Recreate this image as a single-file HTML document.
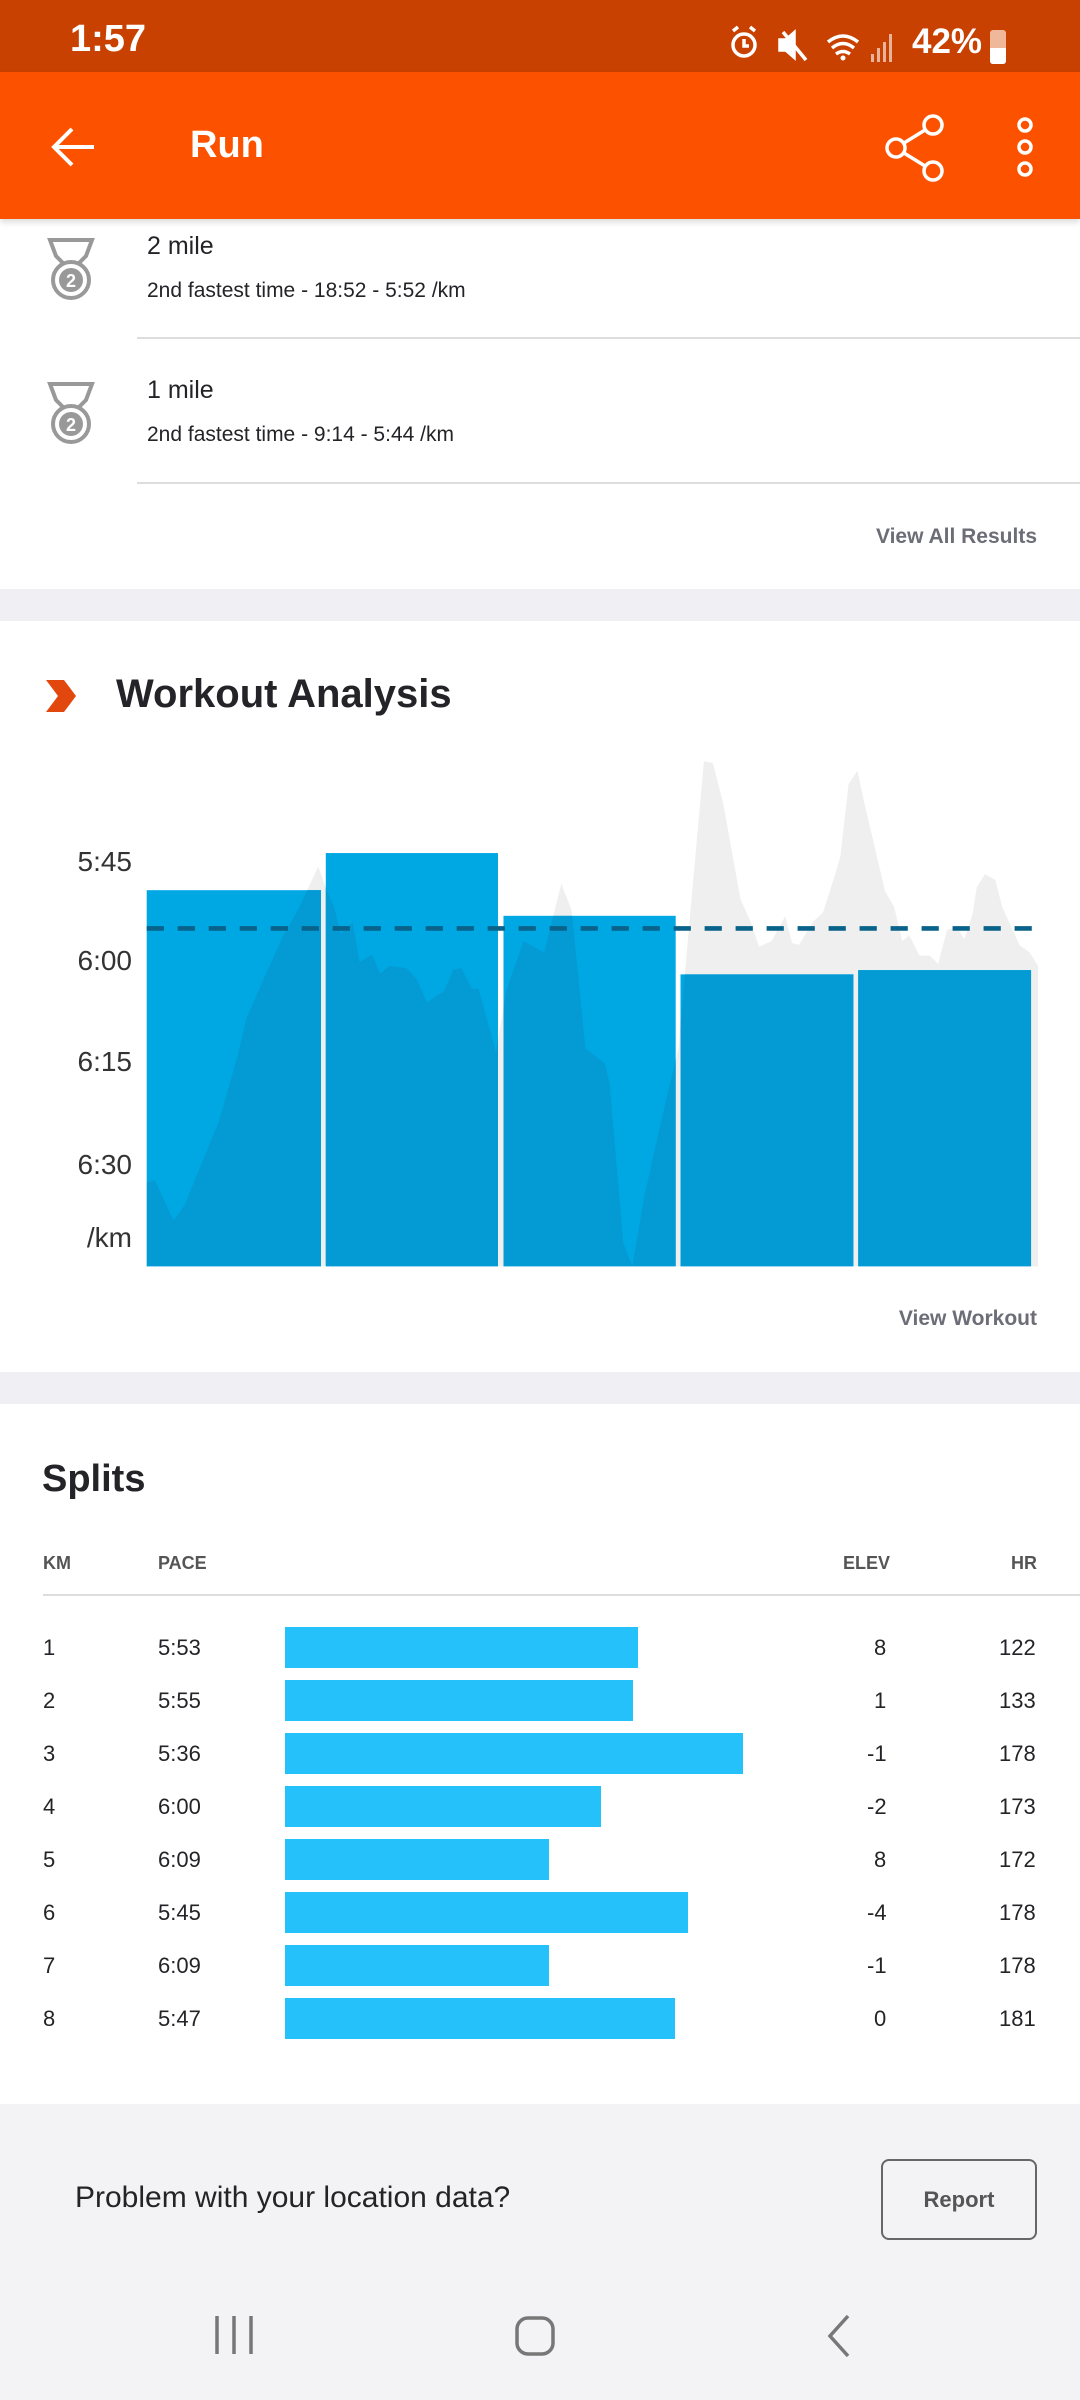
<!DOCTYPE html>
<html><head><meta charset="utf-8"><style>
*{margin:0;padding:0;box-sizing:border-box}
body{width:1080px;height:2400px;position:relative;background:#fff;font-family:"Liberation Sans",sans-serif;overflow:hidden;color:#242428}
.a{position:absolute;white-space:nowrap}
</style></head><body>
<div class="a" style="left:0;top:0;width:1080px;height:72px;background:#c94100"></div>
<div class="a" style="left:70px;top:18px;font-size:38px;font-weight:bold;color:#fff">1:57</div>
<div class="a" style="left:912px;top:22px;font-size:35px;font-weight:bold;color:#fff">42%</div>
<div class="a" style="left:990px;top:30px;width:16px;height:34px;background:#f0b89a;border-radius:3px"></div>
<div class="a" style="left:990px;top:48px;width:16px;height:16px;background:#fff;border-radius:0 0 3px 3px"></div>
<svg class="a" style="left:728px;top:24px" width="170" height="40"><g stroke="#fff" stroke-width="3.5" fill="none"><circle cx="16" cy="21" r="11"/><path d="M16 15 V22 H21 M5 7 L10 3 M27 7 L22 3"/><path d="M55 8 L78 36"/><path d="M52 16 H58 L66 9 V33 L58 26 H52 Z" fill="#fff"/><path d="M100 18 Q115 6 130 18 M104 24 Q115 15 126 24 M108 30 Q115 25 122 30"/></g><circle cx="115" cy="34" r="2.5" fill="#fff"/><g fill="#fff" opacity=".6"><rect x="143" y="30" width="3" height="8"/><rect x="149" y="24" width="3" height="14"/><rect x="155" y="18" width="3" height="20"/><rect x="161" y="10" width="3" height="28"/></g></svg>
<div class="a" style="left:0;top:72px;width:1080px;height:147px;background:#fc5200;box-shadow:0 3px 6px rgba(0,0,0,.15)"></div>
<svg class="a" style="left:50px;top:125px" width="48" height="44"><path d="M22 4 L4 22 L22 40 M4 22 H44" stroke="#fff" stroke-width="4" fill="none"/></svg>
<div class="a" style="left:190px;top:124px;font-size:38px;font-weight:bold;color:#fff">Run</div>
<svg class="a" style="left:880px;top:112px" width="70" height="70"><g stroke="#fff" stroke-width="3.5" fill="none"><circle cx="53" cy="13" r="9"/><circle cx="16" cy="36" r="9"/><circle cx="53" cy="59" r="9"/><path d="M24 31 L45 18 M24 41 L45 54"/></g></svg>
<svg class="a" style="left:1010px;top:112px" width="30" height="70"><g stroke="#fff" stroke-width="3.5" fill="none"><circle cx="15" cy="13" r="6"/><circle cx="15" cy="35" r="6"/><circle cx="15" cy="57" r="6"/></g></svg>

<svg class="a" style="left:46px;top:236px" width="50" height="64"><g stroke="#999" stroke-width="4" fill="none"><path d="M4 4 H46 L40 20 L30 30 H20 L10 20 Z"/></g><circle cx="25" cy="44" r="18" fill="#fff" stroke="#999" stroke-width="4"/><circle cx="25" cy="44" r="12" fill="#999"/><text x="25" y="51" font-size="18" font-weight="bold" fill="#fff" text-anchor="middle" font-family="Liberation Sans">2</text></svg>
<div class="a" style="left:147px;top:232px;font-size:25px">2 mile</div>
<div class="a" style="left:147px;top:279px;font-size:21px">2nd fastest time - 18:52 - 5:52 /km</div>
<div class="a" style="left:137px;top:337px;width:943px;height:2px;background:#ddd"></div>
<svg class="a" style="left:46px;top:380px" width="50" height="64"><g stroke="#999" stroke-width="4" fill="none"><path d="M4 4 H46 L40 20 L30 30 H20 L10 20 Z"/></g><circle cx="25" cy="44" r="18" fill="#fff" stroke="#999" stroke-width="4"/><circle cx="25" cy="44" r="12" fill="#999"/><text x="25" y="51" font-size="18" font-weight="bold" fill="#fff" text-anchor="middle" font-family="Liberation Sans">2</text></svg>
<div class="a" style="left:147px;top:376px;font-size:25px">1 mile</div>
<div class="a" style="left:147px;top:423px;font-size:21px">2nd fastest time - 9:14 - 5:44 /km</div>
<div class="a" style="left:137px;top:482px;width:943px;height:2px;background:#ddd"></div>
<div class="a" style="right:43px;top:525px;font-size:21px;font-weight:bold;color:#6d6d78">View All Results</div>
<div class="a" style="left:0;top:589px;width:1080px;height:32px;background:#f0f0f4"></div>

<svg class="a" style="left:44px;top:678px" width="36" height="36"><path d="M2 2 H20 L32 18 L20 34 H2 L14 18 Z" fill="#e2470d"/></svg>
<div class="a" style="left:116px;top:672px;font-size:40px;font-weight:bold">Workout Analysis</div>

<svg class="a" style="left:0;top:700px" width="1080" height="600" viewBox="0 0 1568 1568" preserveAspectRatio="none">
<defs>
<path id="ar" d="M213 1260 L225 1255 L252 1360 L268 1320 L318 1100 L345 930 L358 830 L380 740 L410 620 L435 540 L462 435 L475 500 L485 540 L495 610 L512 580 L522 685 L540 665 L552 715 L565 695 L590 700 L605 730 L620 790 L645 760 L658 705 L670 700 L685 755 L695 755 L720 920 L735 760 L760 630 L790 660 L815 480 L830 550 L850 910 L878 950 L885 1000 L905 1420 L918 1480 L935 1300 L960 1100 L985 910 L1000 600 L1022 160 L1035 165 L1050 270 L1075 520 L1090 580 L1102 645 L1120 630 L1140 565 L1150 635 L1160 640 L1180 580 L1195 555 L1210 470 L1220 410 L1232 220 L1245 185 L1255 270 L1285 500 L1298 540 L1310 630 L1320 615 L1335 668 L1350 668 L1362 690 L1375 600 L1390 595 L1400 625 L1412 560 L1418 490 L1430 455 L1445 470 L1455 540 L1480 640 L1495 660 L1507 695 L1507 1480 L213 1480 Z"/>
<clipPath id="cb"><rect x="213" y="497" width="253" height="983"/><rect x="473" y="400" width="250" height="1080"/><rect x="731" y="564" width="250" height="916"/><rect x="988" y="717" width="251" height="763"/><rect x="1246" y="706" width="251" height="774"/></clipPath>
</defs>
<use href="#ar" fill="#efefef"/>
<g fill="#00a8e3"><rect x="213" y="497" width="253" height="983"/><rect x="473" y="400" width="250" height="1080"/><rect x="731" y="564" width="250" height="916"/><rect x="988" y="717" width="251" height="763"/><rect x="1246" y="706" width="251" height="774"/></g>
<use href="#ar" fill="#049bd5" clip-path="url(#cb)"/>
<line x1="213" y1="597" x2="1507" y2="597" stroke="#08628a" stroke-width="12" stroke-dasharray="25 20"/>
</svg>
<div class="a" style="right:948px;top:846px;font-size:28px;color:#333">5:45</div>
<div class="a" style="right:948px;top:945px;font-size:28px;color:#333">6:00</div>
<div class="a" style="right:948px;top:1046px;font-size:28px;color:#333">6:15</div>
<div class="a" style="right:948px;top:1149px;font-size:28px;color:#333">6:30</div>
<div class="a" style="right:948px;top:1222px;font-size:28px;color:#333">/km</div>
<div class="a" style="right:43px;top:1307px;font-size:21px;font-weight:bold;color:#6d6d78">View Workout</div>
<div class="a" style="left:0;top:1372px;width:1080px;height:32px;background:#f0f0f4"></div>

<div class="a" style="left:42px;top:1458px;font-size:38px;font-weight:bold">Splits</div>
<div class="a" style="left:43px;top:1553px;font-size:18px;font-weight:bold;color:#555">KM</div>
<div class="a" style="left:158px;top:1553px;font-size:18px;font-weight:bold;color:#555">PACE</div>
<div class="a" style="right:190px;top:1553px;font-size:18px;font-weight:bold;color:#555">ELEV</div>
<div class="a" style="right:43px;top:1553px;font-size:18px;font-weight:bold;color:#555">HR</div>
<div class="a" style="left:43px;top:1594px;width:1037px;height:2px;background:#ddd"></div>

<div style="position:absolute;left:0;top:1635px;width:1080px;font-size:22px">
<div class="a" style="top:0"><span class="a" style="left:43px">1</span><span class="a" style="left:158px">5:53</span><span class="a" style="left:285px;top:-8px;width:353px;height:41px;background:#24c1fb"></span><span class="a" style="left:874px">8</span><span class="a" style="left:999px">122</span></div>
<div class="a" style="top:53px"><span class="a" style="left:43px">2</span><span class="a" style="left:158px">5:55</span><span class="a" style="left:285px;top:-8px;width:348px;height:41px;background:#24c1fb"></span><span class="a" style="left:874px">1</span><span class="a" style="left:999px">133</span></div>
<div class="a" style="top:106px"><span class="a" style="left:43px">3</span><span class="a" style="left:158px">5:36</span><span class="a" style="left:285px;top:-8px;width:458px;height:41px;background:#24c1fb"></span><span class="a" style="left:867px">-1</span><span class="a" style="left:999px">178</span></div>
<div class="a" style="top:159px"><span class="a" style="left:43px">4</span><span class="a" style="left:158px">6:00</span><span class="a" style="left:285px;top:-8px;width:316px;height:41px;background:#24c1fb"></span><span class="a" style="left:867px">-2</span><span class="a" style="left:999px">173</span></div>
<div class="a" style="top:212px"><span class="a" style="left:43px">5</span><span class="a" style="left:158px">6:09</span><span class="a" style="left:285px;top:-8px;width:264px;height:41px;background:#24c1fb"></span><span class="a" style="left:874px">8</span><span class="a" style="left:999px">172</span></div>
<div class="a" style="top:265px"><span class="a" style="left:43px">6</span><span class="a" style="left:158px">5:45</span><span class="a" style="left:285px;top:-8px;width:403px;height:41px;background:#24c1fb"></span><span class="a" style="left:867px">-4</span><span class="a" style="left:999px">178</span></div>
<div class="a" style="top:318px"><span class="a" style="left:43px">7</span><span class="a" style="left:158px">6:09</span><span class="a" style="left:285px;top:-8px;width:264px;height:41px;background:#24c1fb"></span><span class="a" style="left:867px">-1</span><span class="a" style="left:999px">178</span></div>
<div class="a" style="top:371px"><span class="a" style="left:43px">8</span><span class="a" style="left:158px">5:47</span><span class="a" style="left:285px;top:-8px;width:390px;height:41px;background:#24c1fb"></span><span class="a" style="left:874px">0</span><span class="a" style="left:999px">181</span></div>
</div>

<div class="a" style="left:0;top:2104px;width:1080px;height:296px;background:#f3f3f5"></div>
<div class="a" style="left:75px;top:2181px;font-size:30px">Problem with your location data?</div>
<div class="a" style="left:881px;top:2159px;width:156px;height:81px;border:2px solid #666;border-radius:8px;font-size:22px;font-weight:bold;color:#555;text-align:center;line-height:77px">Report</div>
<svg class="a" style="left:200px;top:2310px" width="680" height="52"><g stroke="#777" stroke-width="3.5" fill="none"><path d="M17 6 V44 M34 6 V44 M51 6 V44"/><rect x="317" y="8" width="36" height="36" rx="11"/><path d="M648 6 L630 26 L648 46"/></g></svg>
</body></html>
